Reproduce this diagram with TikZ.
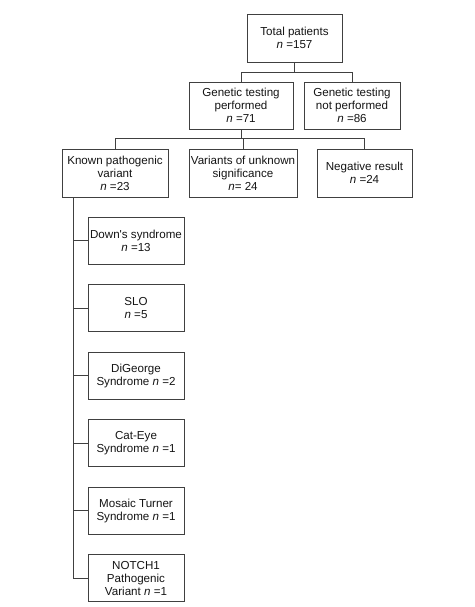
\documentclass[tikz,border=0pt]{standalone}
\usepackage{fontspec}
\setmainfont{Liberation Sans}
\usepackage{tikz}
\usetikzlibrary{positioning,calc}
\definecolor{frame}{RGB}{64,64,64}
\definecolor{ink}{RGB}{20,20,20}
\newcommand{\nn}{\textit{n}}

\begin{document}
\begin{tikzpicture}[x=1pt, y=-1pt,
		box/.style={draw=frame, line width=0.8pt, align=center, inner sep=1pt,
			minimum width=96pt, minimum height=47pt, text=ink,
			font=\fontsize{11.6}{13}\selectfont},
		link/.style={draw=frame, line width=0.8pt}]
		\useasboundingbox (0,0) rectangle (474,607);
		% top levels
		\node[box, minimum width=95pt, minimum height=48pt] (total) at (294.5,38)
			{Total patients\\\nn{} =157};
		\node[box, minimum width=104pt] (perf) at (241,105.5)
			{Genetic testing\\performed\\\nn{} =71};
		\node[box] (notperf) at (352,105.5)
			{Genetic testing\\not performed\\\nn{} =86};
		\node[box, minimum width=106pt, minimum height=48pt] (known) at (115,173)
			{Known pathogenic\\variant\\\nn{} =23};
		\node[box, minimum width=108pt, minimum height=48pt] (vus) at (243,173)
			{Variants of unknown\\significance\\\nn{}= 24};
		\node[box, minimum width=95pt, minimum height=48pt] (neg) at (364.5,173)
			{Negative result\\\nn{} =24};
		% known variants
		\node[box] (s1) at (136,240.5) {Down\textquotesingle s syndrome\\\nn{} =13};
		\node[box] (s2) at (136,308) {SLO\\\nn{} =5};
		\node[box] (s3) at (136,375.5) {DiGeorge\\Syndrome \nn{} =2};
		\node[box] (s4) at (136,443) {Cat-Eye\\Syndrome \nn{} =1};
		\node[box] (s5) at (136,510.5) {Mosaic Turner\\Syndrome \nn{} =1};
		\node[box] (s6) at (136,578) {NOTCH1\\Pathogenic\\Variant \nn{} =1};
		% connectors
		\coordinate (b1) at ($(total.south)+(0,10)$);
		\draw[link] (total.south) -- (b1);
		\draw[link] (perf.north) |- (b1) -| (notperf.north);
		\coordinate (b2) at ($(perf.south)+(0,9)$);
		\draw[link] (perf.south) -- (b2);
		\draw[link] (known.north) |- (b2) -| (neg.north);
		\draw[link] (vus.north) -- (vus.north |- b2);
		\coordinate (trunk) at ($(known.south)+(-42,0)$);
		\draw[link] (trunk) |- (s6.west);
		\foreach \k in {1,...,5}
			\draw[link] (trunk |- s\k.west) -- (s\k.west);
	\end{tikzpicture}
\end{document}
